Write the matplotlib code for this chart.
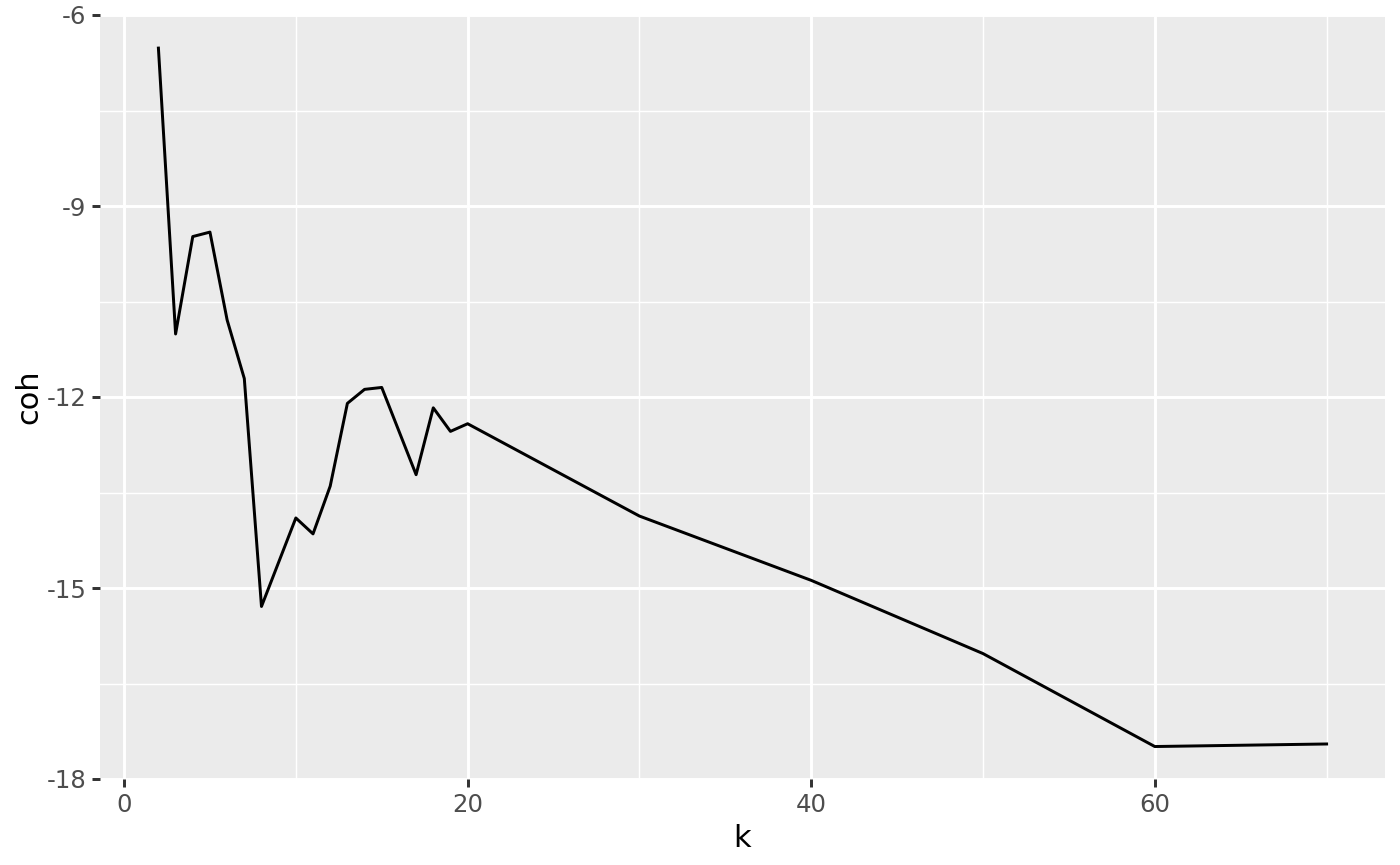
import matplotlib
matplotlib.use("Agg")
import matplotlib.pyplot as plt

# values
k = [2, 3, 4, 5, 6, 7, 8, 10, 11, 12, 13, 14, 15, 17, 18, 19, 20, 30, 40, 50, 60, 70]
coh = [-6.52, -11.01, -9.48, -9.41, -10.79, -11.71, -15.29, -13.90, -14.15, -13.40,
       -12.10, -11.88, -11.85, -13.22, -12.17, -12.54, -12.42, -13.87, -14.88,
       -16.03, -17.49, -17.45]

x_ticks = [0, 20, 40, 60]
x_minor = [10, 30, 50, 70]
y_ticks = [-18, -15, -12, -9, -6]
y_minor = [-16.5, -13.5, -10.5, -7.5]

plt.rcParams["axes.unicode_minus"] = False

fig = plt.figure(figsize=(7, 4.325), dpi=200)
ax = fig.add_axes([100 / 1400, (865 - 779) / 865, 1285 / 1400, 764 / 865])

# ggplot-like grey panel
ax.set_facecolor("#EBEBEB")
for s in ax.spines.values():
    s.set_visible(False)

ax.set_xticks(x_ticks)
ax.set_xticks(x_minor, minor=True)
ax.set_yticks(y_ticks)
ax.set_yticks(y_minor, minor=True)
ax.set_yticklabels([str(v) for v in y_ticks])
ax.grid(True, which="major", color="white", linewidth=1.07)
ax.grid(True, which="minor", color="white", linewidth=0.53)
ax.set_axisbelow(True)
ax.tick_params(which="major", length=2.75, width=1.07, color="#333333",
               labelcolor="#4D4D4D", labelsize=8.8, pad=2.2)
ax.tick_params(which="minor", length=0)

ax.plot(k, coh, color="black", linewidth=1.07)

span = max(k) - min(k)
ax.set_xlim(min(k) - 0.05 * span, max(k) + 0.05 * span)
ax.set_ylim(-18, -6)

ax.set_xlabel("k", fontsize=11, labelpad=2.75)
ax.set_ylabel("coh", fontsize=11, labelpad=1.2)

fig.savefig("out.png", dpi=200)
